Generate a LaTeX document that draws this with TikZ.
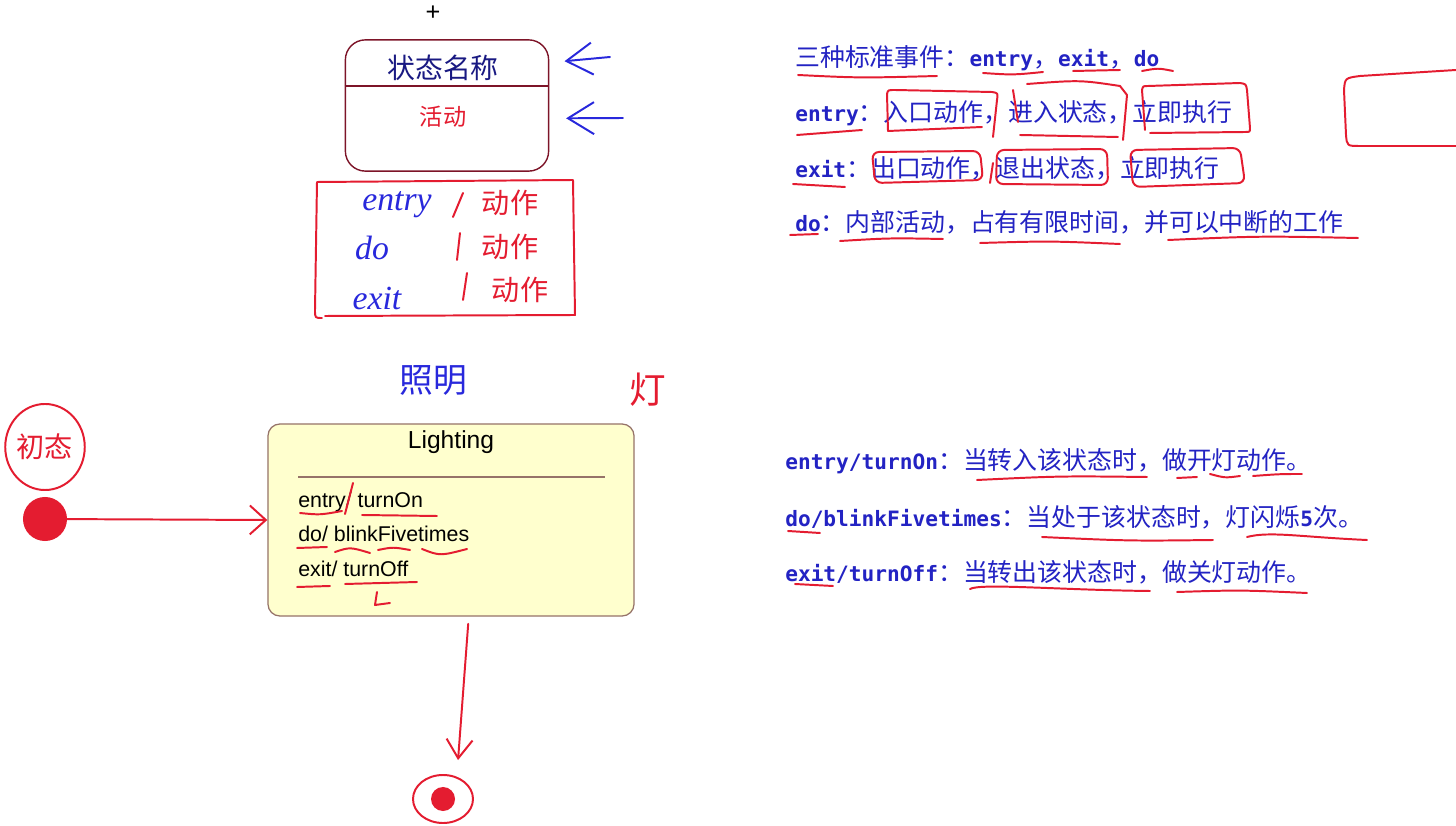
\documentclass[tikz,border=0pt]{standalone}
\usepackage{fontspec}
\setmainfont{Noto Sans CJK SC}
\newfontfamily\arialfont{Liberation Sans}
\newfontfamily\codefont{DejaVu Sans Mono}[Scale=0.85]
\newfontfamily\handfont{Liberation Serif}
\usetikzlibrary{shapes.geometric}
\usetikzlibrary{arrows.meta}
\usepackage{xcolor}
\definecolor{noteblue}{RGB}{35,35,195}
\definecolor{titleblue}{RGB}{25,25,130}
\definecolor{penred}{RGB}{228,28,48}
\definecolor{penblue}{RGB}{40,40,220}
\definecolor{boxred}{RGB}{125,20,40}
\definecolor{lightfill}{RGB}{255,255,206}
\definecolor{lightedge}{RGB}{150,115,105}
\newcommand{\code}[1]{{\codefont\bfseries #1}}

\begin{document}
\begin{tikzpicture}[x=0.025cm, y=-0.025cm]
        % ================= 样式 =================
        \tikzset{
            % 通用状态框 (上方)
            snode/.style={rectangle, draw=boxred, line width=1pt, rounded corners=0.5cm, minimum width=5.08cm, minimum height=3.28cm, inner sep=0pt},
            % Lighting 状态框
            lnode/.style={rectangle, draw=lightedge, fill=lightfill, line width=0.9pt, rounded corners=0.3cm, minimum width=9.15cm, minimum height=4.8cm, inner sep=0pt},
            % 右侧说明文字
            note/.style={anchor=base west, inner sep=0pt, text=noteblue, font=\fontsize{17.7}{21}\selectfont},
            % 框内动作文字
            item/.style={anchor=base west, inner sep=0pt, font=\arialfont\fontsize{15.2}{18}\selectfont},
            % 手写批注
            hand_blue/.style={inner sep=0pt, text=penblue, font=\handfont\itshape\fontsize{24}{28}\selectfont},
            hand_red/.style={inner sep=0pt, text=penred, font=\fontsize{20}{24}\selectfont},
            red_pen/.style={draw=penred, line width=1.4pt, line cap=round, line join=round},
            blue_pen/.style={draw=penblue, line width=1.4pt, line cap=round, line join=round}
        }

        \fill[white] (0,0) rectangle (1456,826);
        \useasboundingbox (0,0) rectangle (1456,826);

        % ================= 上方: 状态名称 / 活动 =================
        \node[inner sep=0pt, font=\arialfont\fontsize{18}{20}\selectfont] (cursor) at (433,13) {+};
        \node[snode] (state) at (447,105.5) {};
        \coordinate (sdiv) at (447,86);
        \draw[boxred, line width=1pt] (state.west |- sdiv) -- (state.east |- sdiv);
        \node[text=titleblue, inner sep=0pt, font=\fontsize{19.8}{22}\selectfont] (sname) at (443,68) {状态名称};
        \node[text=penred, inner sep=0pt, font=\fontsize{16.5}{20}\selectfont] (sact) at (443,117) {活动};

        \coordinate (b1tail) at (610,57);
        \coordinate (b2tail) at (623,118);
        \draw[blue_pen, -{Straight Barb[length=0.65cm, width=0.8cm]}] (b1tail) -- ([xshift=0.38cm, yshift=-0.55cm]state.north east);
        \draw[blue_pen, -{Straight Barb[length=0.65cm, width=0.8cm]}] (b2tail) -- ([xshift=0.42cm, yshift=-0.32cm]state.east);

        % 手写: entry / do / exit
        \draw[red_pen] (322,318) .. controls (315,318) .. (315,310) -- (317,182) -- (573,180) -- (575,315) -- (325,316);
        \node[hand_blue] (wentry) at (397,205) {entry};
        \node[hand_blue] (wdo) at (372,248) {do};
        \node[hand_blue] (wexit) at (377,298) {exit};
        \draw[red_pen] (463,193) -- (453,217);
        \draw[red_pen] (460,233) -- (457,260);
        \draw[red_pen] (467,273) -- (463,300);
        \node[hand_red] (wact1) at (510,203) {动作};
        \node[hand_red] (wact2) at (510,247) {动作};
        \node[hand_red] (wact3) at (520,290) {动作};

        % ================= 右上: 三种标准事件 =================
        \node[note] (ev0) at (795,67) {三种标准事件：\code{entry}，\code{exit}，\code{do}};
        \node[note] (ev1) at (795,122) {\code{entry}：入口动作，进入状态，立即执行};
        \node[note] (ev2) at (795,177.5) {\code{exit}：出口动作，退出状态，立即执行};
        \node[note] (ev3) at (795,232) {\code{do}：内部活动，占有有限时间，并可以中断的工作};

        % 批注线
        \draw[red_pen] (798,75) .. controls (860,78) .. (937,76);
        \draw[red_pen] (983,73) .. controls (1013,75) .. (1043,72);
        \draw[red_pen] (1073,71) -- (1120,70);
        \draw[red_pen] (1142,71) .. controls (1158,68) .. (1173,71);
        \draw[red_pen] (797,135) .. controls (830,133) .. (862,130);
        \draw[red_pen] (888,131) -- (887,94) .. controls (888,90) .. (895,90) -- (992,92) .. controls (998,93) .. (997,100) -- (993,137);
        \draw[red_pen] (888,131) -- (982,127);
        \draw[red_pen] (1013,90) -- (1018,122);
        \draw[red_pen] (1027,84) .. controls (1080,80) .. (1120,86) -- (1127,95) -- (1123,140);
        \draw[red_pen] (1020,135) -- (1118,137);
        \draw[red_pen] (1145,130) -- (1142,90) .. controls (1143,86) .. (1148,86) -- (1240,83) .. controls (1246,84) .. (1247,90) -- (1250,128) .. controls (1250,132) .. (1245,132) -- (1150,133);
        \draw[red_pen] (793,184) -- (845,187);
        \draw[red_pen, rounded corners=5pt] (872,152) -- (980,151) -- (983,180) -- (875,183) -- cycle;
        \draw[red_pen] (993,163) -- (990,183);
        \draw[red_pen, rounded corners=5pt] (997,150) -- (1107,149) -- (1108,185) -- (996,184) -- cycle;
        \draw[red_pen, rounded corners=5pt] (1130,150) -- (1240,148) -- (1245,183) -- (1133,187) -- cycle;
        \draw[red_pen] (790,235) -- (818,234);
        \draw[red_pen] (840,241) .. controls (890,238) .. (943,239);
        \draw[red_pen] (980,243) .. controls (1050,241) .. (1120,244);
        \draw[red_pen] (1168,240) .. controls (1260,236) .. (1358,238);
        \draw[red_pen] (1456,70) -- (1360,76) .. controls (1345,78) .. (1344,90) -- (1346,135) .. controls (1347,146) .. (1360,146) -- (1456,146);

        % ================= 下方: Lighting 状态 =================
        \node[hand_red, red_pen, ellipse, minimum width=1.8cm, minimum height=2.15cm] (initnote) at (45,447) {初态};
        \node[circle, fill=penred, minimum size=1.1cm, inner sep=0pt] (init) at (45,519) {};
        \node[hand_blue, font=\fontsize{24}{28}\selectfont] (wzm) at (433,380) {照明};
        \node[hand_red, font=\fontsize{26}{30}\selectfont] (wdeng) at (648,390) {灯};

        \node[lnode] (light) at (451,520) {};
        \node[inner sep=0pt, anchor=base, font=\arialfont\fontsize{17.5}{20}\selectfont] (ltitle) at (451,449) {Lighting};
        \coordinate (ldivl) at (298,477);
        \coordinate (ldivr) at (605,477);
        \draw[lightedge, line width=0.8pt] (ldivl) -- (ldivr);
        \node[item] (ientry) at (298,508) {entry/ turnOn};
        \node[item] (ido) at (298,542) {do/ blinkFivetimes};
        \node[item] (iexit) at (298,577) {exit/ turnOff};

        \draw[red_pen] (300,513) .. controls (320,515) .. (342,511);
        \draw[red_pen] (353,483) -- (345,514);
        \draw[red_pen] (362,515) -- (437,516);
        \draw[red_pen] (297,548) -- (327,547);
        \draw[red_pen] (335,552) .. controls (350,547) .. (370,553);
        \draw[red_pen] (378,550) .. controls (393,547) .. (410,550);
        \draw[red_pen] (422,549) .. controls (440,556) .. (467,549);
        \draw[red_pen] (297,587) -- (330,586);
        \draw[red_pen] (345,584) -- (417,582);
        \draw[red_pen] (377,592) -- (375,605) -- (390,603);

        \node[red_pen, ellipse, minimum width=1.5cm, minimum height=1.2cm, inner sep=0pt] (final) at (443,799) {};
        \node[circle, fill=penred, minimum size=0.6cm, inner sep=0pt] (finaldot) at (final) {};

        \draw[red_pen, -{Straight Barb[length=0.4cm, width=0.72cm]}] (init) -- (light.west);
        \draw[red_pen, -{Straight Barb[length=0.47cm, width=0.65cm]}, shorten >=0.35cm] ([xshift=0.43cm, yshift=-0.18cm]light.south) -- ([xshift=0.35cm]final.north);

        % ================= 右下: 动作说明 =================
        \node[note] (ex1) at (785,470) {\code{entry/turnOn}：当转入该状态时，做开灯动作。};
        \node[note] (ex2) at (785,527) {\code{do/blinkFivetimes}：当处于该状态时，灯闪烁\code{5}次。};
        \node[note] (ex3) at (785,582) {\code{exit/turnOff}：当转出该状态时，做关灯动作。};

        \draw[red_pen] (977,480) .. controls (1060,476) .. (1147,477);
        \draw[red_pen] (1177,478) -- (1197,477);
        \draw[red_pen] (1210,474) .. controls (1225,478) .. (1240,476);
        \draw[red_pen] (1253,476) .. controls (1280,474) .. (1302,474);
        \draw[red_pen] (788,531) -- (820,533);
        \draw[red_pen] (1042,537) .. controls (1130,541) .. (1213,540);
        \draw[red_pen] (1247,537) .. controls (1270,531) and (1300,537) .. (1367,540);
        \draw[red_pen] (795,584) -- (833,586);
        \draw[red_pen] (970,589) .. controls (980,583) and (1060,590) .. (1150,591);
        \draw[red_pen] (1177,592) .. controls (1240,590) .. (1307,593);

    \end{tikzpicture}
\end{document}
